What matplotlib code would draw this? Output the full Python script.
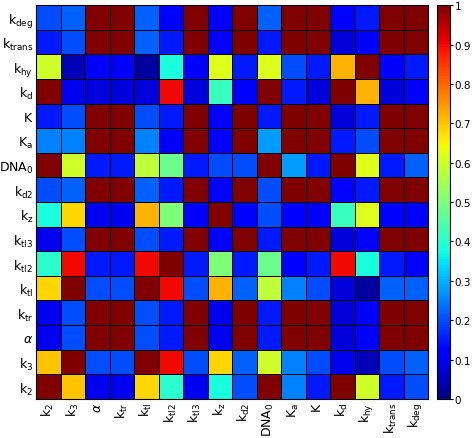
import numpy as np
import matplotlib
matplotlib.use("Agg")
import matplotlib.pyplot as plt

labels = [r"$\mathregular{k_2}$", r"$\mathregular{k_3}$", r"$\alpha$", r"$\mathregular{k_{tr}}$",
          r"$\mathregular{k_{tl}}$", r"$\mathregular{k_{tl2}}$", r"$\mathregular{k_{tl3}}$", r"$\mathregular{k_z}$",
          r"$\mathregular{k_{d2}}$", r"$\mathregular{DNA_0}$", r"$\mathregular{K_a}$", r"$\mathregular{K}$",
          r"$\mathregular{k_d}$", r"$\mathregular{k_{hy}}$", r"$\mathregular{k_{trans}}$", r"$\mathregular{k_{deg}}$"]

# rows in label order (k2 first = bottom row)
r_k2    = [1, 0.70, 0.10, 0.10, 0.68, 0.40, 0.10, 0.38, 0.20, 1, 0.25, 0.15, 1, 0.60, 0.15, 0.20]
r_k3    = [0.70, 1, 0.20, 0.20, 1, 0.90, 0.20, 0.68, 0.22, 0.60, 0.25, 0.20, 0.10, 0.05, 0.20, 0.22]
r_alpha = [0.10, 0.20, 1, 1, 0.20, 0.15, 1, 0.10, 1, 0.15, 1, 1, 0.08, 0.12, 1, 1]
r_ktr   = [0.10, 0.20, 1, 1, 0.20, 0.15, 1, 0.10, 1, 0.15, 1, 1, 0.08, 0.12, 1, 1]
r_ktl   = [0.68, 1, 0.20, 0.20, 1, 0.90, 0.20, 0.72, 0.22, 0.58, 0.25, 0.20, 0.08, 0.03, 0.22, 0.22]
r_ktl2  = [0.40, 0.90, 0.15, 0.15, 0.90, 1, 0.15, 0.50, 0.15, 0.48, 0.12, 0.15, 0.90, 0.38, 0.15, 0.12]
r_ktl3  = [0.10, 0.20, 1, 1, 0.20, 0.15, 1, 0.12, 1, 0.15, 1, 1, 0.08, 0.12, 1, 1]
r_kz    = [0.38, 0.68, 0.10, 0.10, 0.72, 0.50, 0.12, 1, 0.12, 0.20, 0.12, 0.12, 0.42, 0.62, 0.12, 0.12]
r_kd2   = [0.20, 0.22, 1, 1, 0.22, 0.15, 1, 0.12, 1, 0.20, 1, 1, 0.12, 0.15, 1, 1]
r_dna0  = [1, 0.60, 0.15, 0.15, 0.58, 0.48, 0.15, 0.20, 0.20, 1, 0.28, 0.15, 1, 0.62, 0.15, 0.22]
r_Ka    = [0.25, 0.25, 1, 1, 0.25, 0.12, 1, 0.12, 1, 0.28, 1, 1, 0.15, 0.20, 1, 1]
r_K     = [0.15, 0.20, 1, 1, 0.20, 0.15, 1, 0.12, 1, 0.15, 1, 1, 0.08, 0.15, 1, 1]
r_kd    = [1, 0.10, 0.08, 0.08, 0.08, 0.90, 0.08, 0.42, 0.12, 1, 0.15, 0.08, 1, 0.72, 0.08, 0.12]
r_khy   = [0.60, 0.05, 0.12, 0.12, 0.03, 0.38, 0.12, 0.62, 0.15, 0.62, 0.20, 0.15, 0.72, 1, 0.12, 0.15]
r_ktrans= [0.15, 0.20, 1, 1, 0.22, 0.15, 1, 0.12, 1, 0.15, 1, 1, 0.08, 0.12, 1, 1]
r_kdeg  = [0.20, 0.22, 1, 1, 0.22, 0.12, 1, 0.12, 1, 0.22, 1, 1, 0.12, 0.15, 1, 1]

rows = [r_k2, r_k3, r_alpha, r_ktr, r_ktl, r_ktl2, r_ktl3, r_kz, r_kd2, r_dna0,
        r_Ka, r_K, r_kd, r_khy, r_ktrans, r_kdeg]
M = np.array(rows)

fig = plt.figure(figsize=(4.74, 4.39), dpi=100)
ax = fig.add_axes([0.076, 0.089, 0.827, 0.897])
n = len(labels)
mesh = ax.pcolormesh(np.arange(n + 1), np.arange(n + 1), M, cmap="jet", vmin=0, vmax=1,
                     edgecolors="black", linewidth=0.6)
ax.set_xlim(0, n)
ax.set_ylim(0, n)
ax.set_xticks(np.arange(n) + 0.5)
ax.set_xticklabels(labels, rotation=90, fontsize=9)
ax.set_yticks(np.arange(n) + 0.5)
ax.set_yticklabels(labels, fontsize=9)
ax.tick_params(length=0, pad=2)

cax = fig.add_axes([0.922, 0.089, 0.028, 0.897])
cb = fig.colorbar(mesh, cax=cax, ticks=np.arange(0, 1.01, 0.1))
cb.ax.set_yticklabels(["0", "0.1", "0.2", "0.3", "0.4", "0.5", "0.6", "0.7", "0.8", "0.9", "1"])
cb.ax.tick_params(labelsize=7.5, length=2, pad=1)
fig.savefig("out.png", dpi=100)
